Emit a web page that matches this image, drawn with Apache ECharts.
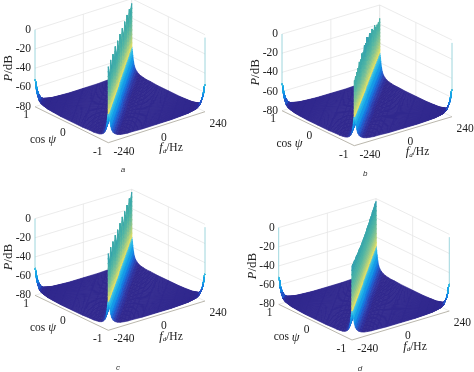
<!DOCTYPE html>
<html>
<head>
<meta charset="utf-8">
<style>html,body{margin:0;padding:0;background:#fff}#container{width:474px;height:372px;filter:blur(0.35px)}</style>
<script src="https://cdn.jsdelivr.net/npm/echarts@6/dist/echarts.min.js"></script>
</head>
<body>
<div id="container"></div>
<script>
"use strict";

// tick labels
const dbTicks = [0, -20, -40, -60, -80];
const cosTicks = [1, 0, -1];
const fdTicks = [-240, 0, 240];

// cross-section of the surface: offset from the ridge -> dB
const skirtOffset = [0, .0006, .0012, .0018, .0024, .003, .0036, .0042, .0048, .0054, .006,
  .012, .02, .03, .05, .07, .1, .14, .19, .25, .32, .4, .5, .7, 1, 1.3, 1.5, 1.65, 1.75, 1.83,
  1.88, 1.93, 1.96, 1.98, 1.995, 2];
const skirtDb = [0, -5, -10, -15, -20, -25, -30, -35, -40, -45, -50,
  -52, -54, -58, -64, -68, -71, -73, -74.5, -75.5, -76, -76.5, -76.5, -77, -77, -77, -76.5, -76, -75, -74,
  -72, -67, -62, -55, -52, -52];

// ridge crest from the front corner to the back corner, one list per panel
const crestA = [-1, -8, -13, -16, -1, -8, -13, -15, -2, -8, -13, -16, -1, -8, -14, -17, -2, -9, -14, -16,
  -2, -9, -14, -17, -3, -9, -14, -16, -3, -9, -13, -15, -3, -8, -12, -14, -4, -8, -12, -8, -5];
const crestB = [-12, -14, -11, -15, -10, -13, -9, -12, -6, -11, -7, -10, -4, -9, -6, -8, -2, -7, -3, -6,
  0, -5, -4, -9, -3, -8, -6, -12, -5, -14, -10, -13, -8, -15, -13, -17, -14, -18, -15, -19, -14];
const crestC = [0, -7, -12, -15, 0, -7, -12, -16, -1, -8, -13, -16, -1, -8, -13, -15, -2, -8, -13, -16,
  -2, -8, -13, -16, -2, -9, -13, -15, -3, -9, -12, -15, -3, -8, -12, -14, -3, -8, -11, -7, -3];
const crestD = [-3, -3, -4, -4, -4, -5, -5, -5, -5, -6, -6, -6, -6, -6, -7, -7, -7, -7, -7, -7,
  -7, -7, -7, -7, -7, -6, -6, -6, -6, -6, -5, -5, -5, -5, -4, -4, -4, -4, -3, -3, -3];

// colour stops, dB -> colour, the jump at -50 is in the reference
const colorDb = [-75, -73.5, -71, -68, -63, -56, -50.01, -50, -44, -34, -22, -10, 0];
const colorHex = ['#30288e', '#2e2f9e', '#2a49b8', '#1a66d8', '#0e8ce6', '#1fb2e8', '#55c8e0',
  '#f2e460', '#c4d874', '#86c494', '#54b6a4', '#3caaaa', '#2c96b6'];

// corners of the floor (left, front, right) and pixel height of 80 dB
const panels = [
  { name: 'a', left: [35, 106.7], front: [108.3, 142.7], right: [205, 111.7], height: 77, crest: crestA, note: [123, 170] },
  { name: 'b', left: [282, 110.7], front: [354.3, 145.7], right: [452, 116.7], height: 76.7, crest: crestB, note: [365.3, 173.3] },
  { name: 'c', left: [35, 295.3], front: [108.3, 330.3], right: [205, 301], height: 76.7, crest: crestC, note: [118, 367.7] },
  { name: 'd', left: [278.7, 304.3], front: [352, 340], right: [449.3, 311], height: 76.7, crest: crestD, note: [360, 368.7] },
];

function project(p, c, fd, db) {
  let u = (c + 1) / 2, v = (fd + 240) / 480, h = (db + 80) / 80 * p.height;
  return [
    p.front[0] + u * (p.left[0] - p.front[0]) + v * (p.right[0] - p.front[0]),
    p.front[1] + u * (p.left[1] - p.front[1]) + v * (p.right[1] - p.front[1]) - h,
  ];
}

function colorOf(db) {
  let i = 0;
  while (i < colorDb.length - 2 && db > colorDb[i + 1]) i++;
  let t = Math.min(1, Math.max(0, (db - colorDb[i]) / (colorDb[i + 1] - colorDb[i])));
  return echarts.color.lerp(t, [colorHex[i], colorHex[i + 1]]);
}

// a surface vertex: row k of the cross-section, station j along the ridge, side +1 right -1 left
function vertex(p, k, j, side) {
  let d = skirtOffset[k], s = j / (p.crest.length - 1), a = -1 + s * (2 - d);
  let db = skirtDb[k];
  if (db > -50 && d < 1) db = -50 + (p.crest[j] + 50) * (db + 50) / 50;
  return side > 0 ? [a, (a + d) * 240, db] : [a + d, a * 240, db];
}

// surface quads of all panels, each panel painted from back to front
let quads = [];
panels.forEach(function (p, idx) {
  let list = [];
  [1, -1].forEach(function (side) {
    for (let k = 0; k < skirtOffset.length - 1; k++) {
      for (let j = 0; j < p.crest.length - 1; j++) {
        let q = [vertex(p, k, j, side), vertex(p, k + 1, j, side), vertex(p, k + 1, j + 1, side), vertex(p, k, j + 1, side)];
        let mean = (q[0][2] + q[1][2] + q[2][2] + q[3][2]) / 4;
        let cm = (q[0][0] + q[1][0] + q[2][0] + q[3][0]) / 4;
        let fm = (q[0][1] + q[1][1] + q[2][1] + q[3][1]) / 4 / 240;
        list.push({ panel: idx, q: q, fill: colorOf(mean), depth: (cm + 1) * 27 + (fm + 1) * 23 });
      }
    }
  });
  list.sort(function (a, b) { return b.depth - a.depth; });
  quads = quads.concat(list);
});

// wall grid, axis lines, and the thin spikes at the two side corners
let lines = [];
let spikes = [];
panels.forEach(function (p, idx) {
  dbTicks.forEach(function (t) {
    lines.push({ panel: idx, a: [1, -240, t], b: [1, 240, t], color: '#e6e6e6' });
    lines.push({ panel: idx, a: [1, 240, t], b: [-1, 240, t], color: '#e6e6e6' });
  });
  lines.push({ panel: idx, a: [1, 0, -80], b: [1, 0, 0], color: '#e6e6e6' });
  lines.push({ panel: idx, a: [0, 240, -80], b: [0, 240, 0], color: '#e6e6e6' });
  lines.push({ panel: idx, a: [1, 240, -80], b: [1, 240, 0], color: '#dcdcdc' });
  lines.push({ panel: idx, a: [1, -240, -80], b: [-1, -240, -80], color: '#a8a498' });
  lines.push({ panel: idx, a: [-1, -240, -80], b: [-1, 240, -80], color: '#a8a498' });
  spikes.push({ panel: idx, a: [1, -240, -52], b: [1, -240, 0], color: '#86cbd4' });
  spikes.push({ panel: idx, a: [-1, 240, -52], b: [-1, 240, -3], color: '#86cbd4' });
});

// text labels, anchored to a point of the box plus a small pixel shift
let labels = [];
panels.forEach(function (p, idx) {
  dbTicks.forEach(function (t) {
    labels.push({ panel: idx, at: [1, -240, t], dx: -4, dy: 0, text: String(t), align: 'right' });
  });
  cosTicks.forEach(function (t, i) {
    labels.push({ panel: idx, at: [t, -240, -80], dx: [-9, -8.7, -10.6][i], dy: [8.3, 8, 9][i], text: String(t) });
  });
  fdTicks.forEach(function (t, i) {
    labels.push({ panel: idx, at: [-1, t, -80], dx: [15.7, 7.3, 13][i], dy: [9, 10.5, 12.3][i], text: String(t) });
  });
  labels.push({ panel: idx, at: [0, -240, -80], dx: -28.7, dy: 15.3, text: 'cos {i|ψ}' });
  labels.push({ panel: idx, at: [-1, 0, -80], dx: 14.3, dy: 21, text: '{i|f}{s|d}/Hz' });
  labels.push({ panel: idx, at: [1, -240, -40], dx: -26, dy: 0, text: '{i|P}/dB', rotate: Math.PI / 2, size: 13 });
});

const richText = {
  i: { fontFamily: 'Liberation Serif', fontStyle: 'italic', fontSize: 12.5, fill: '#222', color: '#222' },
  s: { fontFamily: 'Liberation Serif', fontStyle: 'italic', fontSize: 7, fill: '#222', color: '#222', verticalAlign: 'bottom', padding: [3, 0, 0, 0] },
};

let myChart = echarts.init(document.getElementById('container'), null, { renderer: 'canvas' });

function lineItem(list) {
  return function (params, api) {
    let l = list[params.dataIndex], p = panels[l.panel];
    let a = api.coord(project(p, l.a[0], l.a[1], l.a[2]));
    let b = api.coord(project(p, l.b[0], l.b[1], l.b[2]));
    return {
      type: 'line',
      shape: { x1: a[0], y1: a[1], x2: b[0], y2: b[1] },
      style: { stroke: l.color, lineWidth: 0.8, fill: null },
    };
  };
}

let option = {
  backgroundColor: '#fff',
  animation: false,
  grid: { left: 0, right: 0, top: 0, bottom: 0 },
  xAxis: { type: 'value', min: 0, max: 474, show: false },
  yAxis: { type: 'value', min: 0, max: 372, inverse: true, show: false },
  series: [
    { // walls and axis lines
      type: 'custom',
      coordinateSystem: 'cartesian2d',
      silent: true,
      z: 1,
      data: lines.map(function (l, i) { return [i]; }),
      renderItem: lineItem(lines),
    },
    { // surface
      type: 'custom',
      coordinateSystem: 'cartesian2d',
      silent: true,
      progressive: 0,
      z: 2,
      data: quads.map(function (q, i) { return [i]; }),
      renderItem: function (params, api) {
        let q = quads[params.dataIndex], p = panels[q.panel];
        let pts = q.q.map(function (v) { return api.coord(project(p, v[0], v[1], v[2])); });
        return {
          type: 'polygon',
          shape: { points: pts },
          style: { fill: q.fill, stroke: q.fill, lineWidth: 0.7 },
        };
      },
    },
    { // corner spikes
      type: 'custom',
      coordinateSystem: 'cartesian2d',
      silent: true,
      z: 3,
      data: spikes.map(function (l, i) { return [i]; }),
      renderItem: lineItem(spikes),
    },
    { // labels
      type: 'custom',
      coordinateSystem: 'cartesian2d',
      silent: true,
      z: 3,
      data: labels.map(function (l, i) { return [i]; }),
      renderItem: function (params, api) {
        let l = labels[params.dataIndex], p = panels[l.panel];
        let a = api.coord(project(p, l.at[0], l.at[1], l.at[2]));
        return {
          type: 'text',
          x: a[0] + l.dx,
          y: a[1] + l.dy,
          rotation: l.rotate || 0,
          style: {
            text: l.text,
            fontFamily: 'Liberation Serif',
            fontSize: l.size || 11.5,
            fill: '#222',
            align: l.align || 'center',
            verticalAlign: 'middle',
            rich: richText,
          },
        };
      },
    },
    { // panel letters
      type: 'custom',
      coordinateSystem: 'cartesian2d',
      silent: true,
      z: 3,
      data: panels.map(function (p) { return p.note; }),
      renderItem: function (params, api) {
        let a = api.coord([api.value(0), api.value(1)]);
        return {
          type: 'text',
          x: a[0],
          y: a[1],
          style: {
            text: panels[params.dataIndex].name,
            fontFamily: 'Liberation Sans',
            fontStyle: 'italic',
            fontSize: 8,
            fill: '#333',
            align: 'center',
            verticalAlign: 'middle',
          },
        };
      },
    },
  ],
};

myChart.setOption(option);
</script>
</body>
</html>
